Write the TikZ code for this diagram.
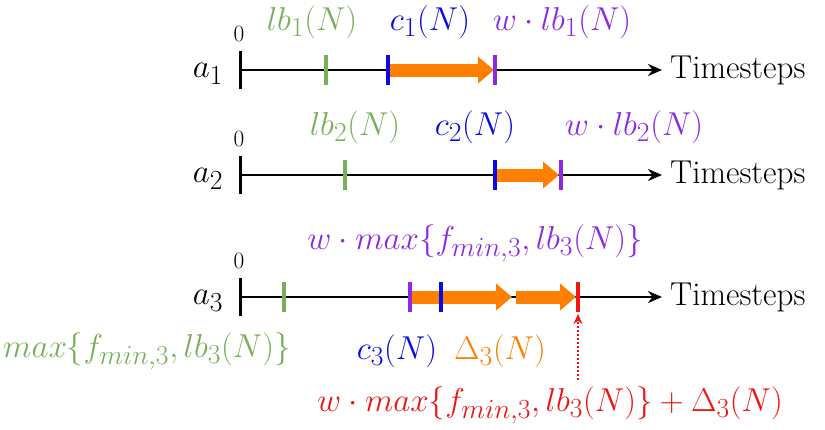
\documentclass[tikz,border=0pt]{standalone}
\usetikzlibrary{arrows.meta}
\definecolor{cg}{RGB}{120,175,90}
\definecolor{cb}{RGB}{10,10,230}
\definecolor{co}{RGB}{255,128,0}
\definecolor{cp}{RGB}{140,40,230}
\definecolor{cr}{RGB}{240,20,20}
\newcommand\bigtxt[1]{\scalebox{1.33}{\Huge #1}}
\newcommand\zerotxt[1]{\scalebox{1.35}{\LARGE #1}}
\tikzset{
 axis/.style={line width=2.5pt,-{Stealth[length=14pt,width=12pt]}},
 tk/.style={line width=3.5pt},
 prog/.style={co,line width=13pt,-{Triangle[length=16pt,width=26pt]}},
 lbl/.style={inner sep=0pt},
 zero/.style={inner sep=0pt}
}
\begin{document}
\begin{tikzpicture}[x=1pt,y=-1pt]
\useasboundingbox (0,0) rectangle (825,429);
\foreach \r/\y in {1/70,2/175,3/297}{
 \coordinate (s\r) at (240,\y);
 \coordinate (e\r) at (662,\y);
 \draw[axis] (s\r) -- (e\r);
 \draw[line width=3pt] (240,\y-19) -- (240,\y+19);
 \node[lbl,anchor=west] (ts\r) at (670,\y) {\bigtxt{Timesteps}};
 \node[lbl] (a\r) at (208,\y+4) {\bigtxt{$a_{\r}$}};
 \node[zero] (z\r) at (239,\y-36) {\zerotxt{0}};
}
% row 1
\coordinate (p1a) at (390,70); \coordinate (p1b) at (494,70);
\draw[prog] (p1a) -- (p1b);
\draw[tk,cg] (326,55) -- (326,85);
\draw[tk,cb] (388,55) -- (388,85);
\draw[tk,cp] (495,55) -- (495,85);
\node[lbl,cg] (l1) at (312,22) {\bigtxt{$lb_1(N)$}};
\node[lbl,cb] (c1) at (430,22) {\bigtxt{$c_1(N)$}};
\node[lbl,cp] (w1) at (562,22) {\bigtxt{$w\cdot lb_1(N)$}};
% row 2
\coordinate (p2a) at (497,175); \coordinate (p2b) at (559,175);
\draw[prog] (p2a) -- (p2b);
\draw[tk,cg] (345,160) -- (345,190);
\draw[tk,cb] (495,160) -- (495,190);
\draw[tk,cp] (561,160) -- (561,190);
\node[lbl,cg] (l2) at (355,127) {\bigtxt{$lb_2(N)$}};
\node[lbl,cb] (c2) at (475,127) {\bigtxt{$c_2(N)$}};
\node[lbl,cp] (w2) at (634,127) {\bigtxt{$w\cdot lb_2(N)$}};
% row 3
\coordinate (p3a) at (412,297); \coordinate (p3b) at (512,297);
\coordinate (p3c) at (516,297); \coordinate (p3d) at (576,297);
\draw[prog] (p3a) -- (p3b);
\draw[prog] (p3c) -- (p3d);
\draw[tk,cg] (284,282) -- (284,312);
\draw[tk,cp] (410,282) -- (410,312);
\draw[tk,cb] (441,282) -- (441,312);
\draw[tk,cr] (578,282) -- (578,312);
\node[lbl,cp] (w3) at (475,243) {\bigtxt{$w\cdot max\{f_{min,3},lb_3(N)\}$}};
\node[lbl,cg,anchor=west] (m3) at (3,351) {\bigtxt{$max\{f_{min,3},lb_3(N)\}$}};
\node[lbl,cb] (c3) at (397,351) {\bigtxt{$c_3(N)$}};
\node[lbl,co] (d3) at (500,351) {\bigtxt{$\Delta_3(N)$}};
\node[lbl,cr] (r3) at (550,405) {\bigtxt{$w\cdot max\{f_{min,3},lb_3(N)\}+\Delta_3(N)$}};
\coordinate (rt) at (578,314);
\coordinate (rb) at (578,380);
\draw[cr,line width=2pt,dotted,-{Stealth[length=10pt,width=9pt]}] (rb) -- (rt);
\end{tikzpicture}
\end{document}
